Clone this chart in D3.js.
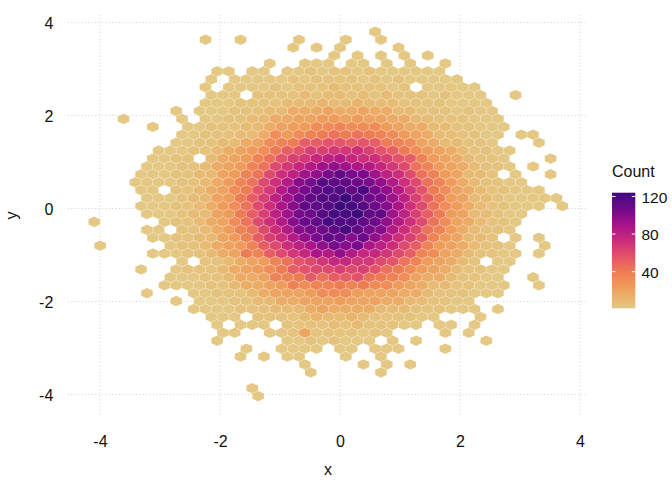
<!DOCTYPE html>
<html><head><meta charset="utf-8">
<script src="https://cdn.jsdelivr.net/npm/d3@7"></script>
<style>
body{margin:0;background:#fff}
svg{display:block}
text{font-family:"Liberation Sans",Arial,Helvetica,sans-serif}
</style>
</head><body>
<svg id="chart" width="672" height="480"></svg>
<script>
// ---------------- data ----------------
const xTicks = [-4, -2, 0, 2, 4];
const yTicks = [-4, -2, 0, 2, 4];
const legendTicks = [40, 80, 120];

// hexbin lattice (bin width in x, spacing of rows in y, centre of top row)
const binX = 0.195;
const rowStep = 0.1703;
const firstRowY = 3.80;

// first column index of every hex row, top row first
const rowStart = [3,-12,-4,-1,-6,-11,-11,-12,-11,-12,-14,-19,-16,-14,-14,-16,-16,-17,-17,-18,
  -17,-17,-17,-17,-21,-17,-16,-21,-16,-14,-17,-15,-15,-17,-14,-13,-11,-11,-10,-11,-8,-9,-3,-3,0,-8,-7];
// counts of each hex row ('.' = empty, '0' = 1, otherwise base-36 digit d = 4*d counts)
const rowCounts = [
  "0",
  "0..0....0...0..0",
  "0.0.0....0",
  "0.0.0.0.0",
  "0..000.00.0.0..0",
  "00.00.00101101000000",
  "0.00000101111010100000",
  "0.0000101112111101.00000",
  "000.11112122121211101000..0",
  "0001111222322322211110000",
  "0.00011122444544544221110100",
  "0....0.00112244556656554422111000",
  "0..0011122456688988865442211000",
  "001112248689ababa98654221100.00",
  "0011224589addeededa985422110...0",
  "0001124568adegghhigeda865421100",
  "0011.24569beghjkljiiged96542110...0",
  "0001124569bfhjlnonmljhfb96542110.0",
  "0001122569bfiknoqsqqnkifb965221.0..0",
  "0000112469bfilpqtssrqolifb96421100",
  "00.112458aehloqsttsuqolhea854211000",
  "00012256adgknqsttvtrqnkgda6522100000",
  "000112468bfimpsstvutrpmifb864211000.0",
  "00012256adgknqrtuuvssnkgda6522100",
  "0.....0112458bfilprsuttsrolifb8542110",
  "00.112469bfilpqrsusqplifb9642110",
  "001122569dgiloqsrproligd965221.0.0",
  "0.....01124569dfikmoqpqmkifd96542110..0",
  "00011245a9dfhjmloljjhfd985421100.0",
  "0.1124569befhjjhhfeb965421.00",
  "0..011124568adeffgfgeba865421100",
  "00011244599adbddeba9854421100..0",
  "000011244569899a9a886542211000..0",
  "0...001112455568886555442111000",
  "0.000112244555655544221100",
  "0000111222454444222111000.0",
  "000.1111232232111100...0",
  "0.000.111121211100.00.0",
  "00..00151111010....0.0",
  "0.....00101000.0.0.....0",
  "0..0000.00.000...0",
  "0.0.00...0..0",
  "0....0.0.0",
  "0.....0",
  "",
  "0",
  "0"
];

// colour ramp (count -> colour)
const colorStops  = [1, 12, 24, 40, 56, 72, 88, 104, 124];
const colorValues = ["#E4C883","#EAB46C","#EF9C5A","#EE7C53","#E4536A","#CD2D79","#AC1488","#7A0A8C","#3D0A7E"];

// ---------------- build cells ----------------
function decode(ch){ const d = parseInt(ch, 36); return d === 0 ? 1 : d * 4; }
const cells = [];
rowCounts.forEach((s, r) => {
  const cy = firstRowY - r * rowStep;
  const off = (r % 2 === 1) ? 0.5 : 0;
  for (let i = 0; i < s.length; i++) {
    const ch = s[i];
    if (ch === '.') continue;
    const k = rowStart[r] + i;
    cells.push({x: (k + off) * binX, y: cy, count: decode(ch)});
  }
});

// ---------------- drawing ----------------
const svg = d3.select("#chart");
const W = 672, H = 480;
const panel = {left: 68, right: 588, top: 15, bottom: 416};

const x = d3.scaleLinear().domain([-4.533, 4.133]).range([panel.left, panel.right]);
const y = d3.scaleLinear().domain([-4.46, 4.16]).range([panel.bottom, panel.top]);
const maxCount = d3.max(cells, d => d.count);
const color = d3.scaleLinear().domain(colorStops).range(colorValues).interpolate(d3.interpolateRgb).clamp(true);

svg.append("rect").attr("width", W).attr("height", H).attr("fill", "#fff");

// grid
const grid = svg.append("g");
grid.selectAll("line.vx").data(xTicks).join("line")
  .attr("x1", d => x(d)).attr("x2", d => x(d))
  .attr("y1", panel.top).attr("y2", panel.bottom)
  .attr("stroke", "#c9c9c9").attr("stroke-width", 0.9).attr("stroke-dasharray", "1,2.4");
grid.selectAll("line.hy").data(yTicks).join("line")
  .attr("y1", d => y(d)).attr("y2", d => y(d))
  .attr("x1", panel.left).attr("x2", panel.right)
  .attr("stroke", "#c9c9c9").attr("stroke-width", 0.9).attr("stroke-dasharray", "1,2.4");

// hexagons
const dx = binX / 2;
const dy = rowStep / Math.sqrt(3) / 2 * 1.15;
const hexOffsets = [[dx, dy], [0, 2 * dy], [-dx, dy], [-dx, -dy], [0, -2 * dy], [dx, -dy]];
svg.append("g").selectAll("path").data(cells).join("path")
  .attr("d", d => "M" + hexOffsets.map(o => [x(d.x + o[0]).toFixed(2), y(d.y + o[1]).toFixed(2)].join(",")).join("L") + "Z")
  .attr("fill", d => color(d.count))
  .attr("stroke", "#ffffff").attr("stroke-opacity", 0.35).attr("stroke-width", 0.5);

// axes
const fontFam = '"Liberation Sans",Arial,Helvetica,sans-serif';
const ax = svg.append("g").attr("transform", `translate(0,${panel.bottom})`)
  .call(d3.axisBottom(x).tickValues(xTicks).tickSize(0).tickPadding(19.6));
ax.select(".domain").remove();
ax.selectAll("text").attr("font-size", 16).attr("font-family", fontFam).attr("fill", "#111").text(d => String(d));

const ay = svg.append("g").attr("transform", `translate(${panel.left},0)`)
  .call(d3.axisLeft(y).tickValues(yTicks).tickSize(0).tickPadding(14.7));
ay.select(".domain").remove();
ay.selectAll("text").attr("font-size", 16).attr("font-family", fontFam).attr("fill", "#111").attr("dy", "0.36em").text(d => String(d));

svg.append("text").attr("x", (panel.left + panel.right) / 2).attr("y", 475)
  .attr("text-anchor", "middle").attr("font-size", 16).attr("fill", "#111").text("x");
svg.append("text").attr("transform", `translate(17,${(panel.top + panel.bottom) / 2}) rotate(-90)`)
  .attr("text-anchor", "middle").attr("font-size", 16).attr("fill", "#111").text("y");

// legend
const bar = {x: 612, w: 23.3, top: 192.7, bottom: 308.3};
const ly = d3.scaleLinear().domain([1, maxCount]).range([bar.bottom, bar.top]);
const defs = svg.append("defs");
const grad = defs.append("linearGradient").attr("id", "cgrad")
  .attr("x1", 0).attr("y1", 1).attr("x2", 0).attr("y2", 0);
d3.range(0, 1.0001, 0.025).forEach(t => {
  const v = 1 + t * (maxCount - 1);
  grad.append("stop").attr("offset", t).attr("stop-color", color(v));
});
svg.append("text").attr("x", bar.x).attr("y", 177.3).attr("font-size", 16).attr("fill", "#111").text("Count");
svg.append("rect").attr("x", bar.x).attr("y", bar.top).attr("width", bar.w)
  .attr("height", bar.bottom - bar.top).attr("fill", "url(#cgrad)");
const lt = svg.append("g");
lt.selectAll("line.l").data(legendTicks).join("line")
  .attr("x1", bar.x).attr("x2", bar.x + 3.5).attr("y1", d => ly(d)).attr("y2", d => ly(d))
  .attr("stroke", "#fff").attr("stroke-width", 1);
lt.selectAll("line.r").data(legendTicks).join("line")
  .attr("x1", bar.x + bar.w - 3.5).attr("x2", bar.x + bar.w).attr("y1", d => ly(d)).attr("y2", d => ly(d))
  .attr("stroke", "#fff").attr("stroke-width", 1);
const la = svg.append("g").attr("transform", `translate(${bar.x + bar.w},0)`)
  .call(d3.axisRight(ly).tickValues(legendTicks).tickSize(0).tickPadding(6.2));
la.select(".domain").remove();
la.selectAll("text").attr("font-size", 15.5).attr("font-family", fontFam).attr("fill", "#111").attr("dy", "0.36em");
</script>
</body></html>
